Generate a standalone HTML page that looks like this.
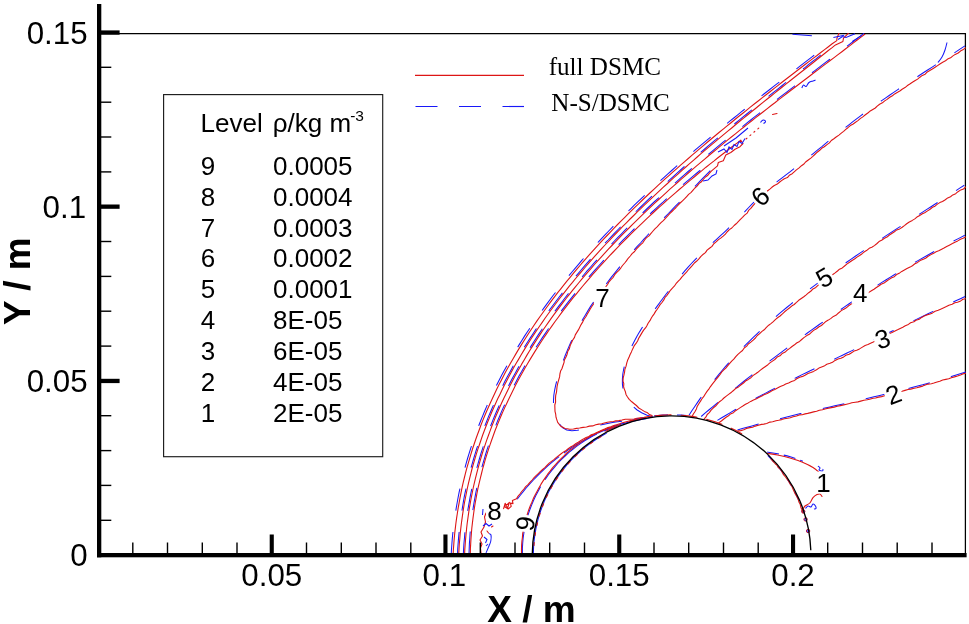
<!DOCTYPE html>
<html lang="en"><head><meta charset="utf-8"><title>Density contours: full DSMC vs N-S/DSMC</title>
<style>
html,body{margin:0;padding:0;background:#fff;}
body{width:969px;height:624px;overflow:hidden;}
svg{display:block;position:absolute;left:0;top:0;}
.sans{font-family:"Liberation Sans",Arial,Helvetica,sans-serif;}
.serif{font-family:"Liberation Serif","Times New Roman",Times,serif;}
.tick{font-size:31.3px;fill:#000;}
.axl{font-size:37px;font-weight:bold;fill:#000;}
.lg{font-size:26px;fill:#000;}
.lab{font-size:26px;fill:#000;text-anchor:middle;}
.r{fill:none;stroke:#dd1515;stroke-width:1.1;stroke-linejoin:round;stroke-linecap:round;}
.b{fill:none;stroke:#1818f8;stroke-width:1.05;stroke-linecap:butt;}
.k{fill:none;stroke:#000;}
</style></head><body>
<svg width="969" height="624" viewBox="0 0 969 624">
<rect x="0" y="0" width="969" height="624" fill="#fff"/>
<defs><clipPath id="pa"><rect x="101" y="33" width="865" height="520.5"/></clipPath></defs>
<g class="k">
<line x1="101" y1="33.5" x2="966" y2="33.5" stroke-width="1.25"/>
<line x1="965.4" y1="33" x2="965.4" y2="554" stroke-width="1.25"/>
</g>
<g clip-path="url(#pa)">
<path class="b" stroke-dasharray="22.5 21.5" d="M451.2 554.4 L451.5 549.1 L451.9 543.8 L452.3 538.6 L452.8 533.3 L453.4 528.1 L454 523 L454.7 517.8 L455.5 512.7 L456.3 507.6 L457.2 502.5 L458.1 497.5 L459.1 492.4 L460.2 487.4 L461.3 482.5 L462.5 477.5 L463.7 472.6 L465 467.7 L466.3 462.9 L467.7 458 L469.2 453.2 L470.7 448.4 L472.3 443.7 L473.9 438.9 L475.6 434.2 L477.3 429.5 L479.1 424.8 L480.9 420.2 L482.8 415.6 L484.7 411 L486.7 406.4 L488.7 401.9 L490.7 397.4 L492.9 392.9 L495 388.4 L497.2 383.9 L499.5 379.5 L501.8 375.1 L504.1 370.7 L506.5 366.4 L508.9 362 L511.4 357.7 L513.9 353.4 L516.5 349.1 L519.1 344.9 L521.7 340.7 L524.4 336.4 L527.1 332.3 L529.9 328.1 L532.6 324 L535.5 319.8 L538.3 315.7 L541.2 311.7 L544.2 307.6 L547.1 303.6 L550.1 299.5 L553.1 295.5 L556.2 291.6 L559.3 287.6 L562.4 283.7 L565.6 279.7 L568.8 275.8 L572 272 L575.3 268.1 L578.5 264.3 L581.8 260.4 L585.2 256.6 L588.5 252.8 L591.9 249.1 L595.3 245.3 L598.7 241.6 L602.2 237.9 L605.7 234.2 L609.2 230.5 L612.7 226.8 L616.3 223.2 L619.8 219.6 L623.4 216 L627 212.4 L630.7 208.8 L634.3 205.2 L638 201.7 L641.7 198.2 L645.4 194.7 L649.1 191.2 L652.8 187.7 L656.6 184.2 L660.3 180.8 L664.1 177.3 L667.9 173.9 L671.7 170.5 L675.5 167.1 L679.3 163.8 L683.2 160.4 L687 157.1 L690.9 153.7 L694.7 150.4 L698.6 147.1 L702.5 143.8 L706.4 140.6 L710.3 137.3 L714.2 134.1 L718.1 130.8 L722 127.6 L725.9 124.4 L729.8 121.2 L733.8 118 L737.7 114.9 L741.6 111.7 L745.5 108.6 L749.5 105.4 L753.4 102.3 L757.3 99.2 L761.3 96.1 L765.2 93 L769.1 90 L773 86.9 L776.9 83.9 L780.9 80.8 L784.8 77.8 L788.7 74.8 L792.6 71.8 L796.5 68.8 L800.3 65.8 L804.2 62.8 L808.1 59.9 L812 56.9 L815.8 54 L819.6 51 L823.5 48.1 L827.3 45.2 L831.1 42.3"/>
<path class="b" stroke-dasharray="22.5 21.5" d="M457.5 554.4 L457.7 549.1 L458.1 543.9 L458.5 538.6 L459 533.4 L459.5 528.2 L460.1 523.1 L460.8 518 L461.6 512.9 L462.4 507.8 L463.2 502.8 L464.1 497.7 L465.1 492.7 L466.2 487.8 L467.3 482.8 L468.4 477.9 L469.7 473 L470.9 468.2 L472.3 463.4 L473.7 458.5 L475.1 453.8 L476.6 449 L478.2 444.3 L479.8 439.6 L481.5 434.9 L483.2 430.2 L484.9 425.6 L486.8 421 L488.6 416.4 L490.6 411.8 L492.5 407.3 L494.5 402.8 L496.6 398.3 L498.7 393.8 L500.9 389.4 L503.1 385 L505.3 380.6 L507.6 376.2 L510 371.9 L512.4 367.5 L514.8 363.2 L517.3 358.9 L519.8 354.7 L522.4 350.4 L524.9 346.2 L527.6 342 L530.3 337.9 L533 333.7 L535.7 329.6 L538.5 325.5 L541.3 321.4 L544.2 317.3 L547.1 313.2 L550 309.2 L553 305.2 L556 301.2 L559 297.2 L562.1 293.3 L565.2 289.4 L568.3 285.5 L571.5 281.6 L574.7 277.7 L577.9 273.8 L581.1 270 L584.4 266.2 L587.7 262.4 L591 258.6 L594.4 254.8 L597.8 251.1 L601.2 247.4 L604.6 243.6 L608.1 240 L611.5 236.3 L615 232.6 L618.6 229 L622.1 225.4 L625.7 221.7 L629.3 218.1 L632.9 214.6 L636.5 211 L640.1 207.5 L643.8 203.9 L647.4 200.4 L651.1 196.9 L654.8 193.4 L658.5 190 L662.3 186.5 L666 183.1 L669.8 179.7 L673.5 176.3 L677.3 172.9 L681.1 169.5 L684.9 166.1 L688.7 162.8 L692.6 159.4 L696.4 156.1 L700.2 152.8 L704.1 149.5 L707.9 146.2 L711.8 142.9 L715.7 139.7 L719.5 136.4 L723.4 133.2 L727.3 129.9 L731.2 126.7 L735 123.5 L738.9 120.3 L742.8 117.2 L746.7 114 L750.6 110.8 L754.5 107.7 L758.3 104.6 L762.2 101.4 L766.1 98.3 L770 95.2 L773.8 92.1 L777.7 89.1 L781.6 86 L785.4 82.9 L789.3 79.9 L793.1 76.8 L796.9 73.8 L800.8 70.8 L804.6 67.8 L808.4 64.7 L812.2 61.7 L816 58.8 L819.7 55.8 L823.5 52.8 L827.3 49.8 L831 46.9 L834.7 43.9"/>
<path class="b" stroke-dasharray="22.5 21.5" d="M463.3 554.7 L463.6 549.3 L463.9 544 L464.4 538.8 L464.8 533.5 L465.4 528.3 L466 523.2 L466.7 518 L467.4 512.9 L468.2 507.8 L469.1 502.8 L470 497.7 L471 492.7 L472 487.7 L473.1 482.8 L474.3 477.9 L475.5 473 L476.8 468.1 L478.1 463.3 L479.5 458.5 L480.9 453.7 L482.5 448.9 L484 444.2 L485.6 439.5 L487.3 434.8 L489 430.1 L490.8 425.5 L492.6 420.9 L494.5 416.3 L496.4 411.8 L498.4 407.2 L500.4 402.7 L502.5 398.3 L504.6 393.8 L506.8 389.4 L509 385 L511.2 380.6 L513.5 376.2 L515.9 371.9 L518.3 367.6 L520.7 363.3 L523.2 359 L525.7 354.8 L528.3 350.6 L530.9 346.4 L533.5 342.2 L536.2 338.1 L538.9 333.9 L541.7 329.8 L544.5 325.7 L547.3 321.7 L550.2 317.6 L553.1 313.6 L556.1 309.6 L559.1 305.6 L562.1 301.7 L565.1 297.7 L568.2 293.8 L571.3 289.9 L574.5 286.1 L577.6 282.2 L580.8 278.4 L584.1 274.5 L587.3 270.7 L590.6 267 L594 263.2 L597.3 259.5 L600.7 255.7 L604.1 252 L607.5 248.3 L611 244.7 L614.4 241 L617.9 237.4 L621.5 233.8 L625 230.2 L628.6 226.6 L632.2 223 L635.8 219.5 L639.4 216 L643.1 212.5 L646.7 209 L650.4 205.5 L654.1 202 L657.8 198.6 L661.6 195.1 L665.3 191.7 L669.1 188.3 L672.9 184.9 L676.7 181.6 L680.5 178.2 L684.3 174.9 L688.1 171.5 L692 168.2 L695.8 164.9 L699.7 161.6 L703.6 158.3 L707.5 155.1 L711.4 151.8 L715.3 148.6 L719.2 145.4 L723.1 142.2 L727 139 L731 135.8 L734.9 132.6 L738.8 129.5 L742.8 126.3 L746.7 123.2 L750.7 120 L754.6 116.9 L758.6 113.8 L762.6 110.7 L766.5 107.6 L770.5 104.5 L774.4 101.5 L778.4 98.4 L782.3 95.4 L786.3 92.3 L790.2 89.3 L794.2 86.3 L798.1 83.3 L802.1 80.3 L806 77.3 L809.9 74.3 L813.9 71.3 L817.8 68.4 L821.7 65.4 L825.6 62.4 L829.5 59.5 L833.4 56.6 L837.2 53.6 L841.1 50.7 L845 47.8 L848.8 44.9 L852.6 42 L856.4 39.1 L860.3 36.2 L864 33.3"/>
<path class="b" stroke-dasharray="22.5 21.5" d="M469 553.9 L469.2 548.7 L469.4 543.6 L469.8 538.4 L470.1 533.2 L470.6 528.1 L471.1 523 L471.7 517.9 L472.4 512.9 L473.2 507.8 L474 502.8 L474.9 497.8 L475.8 492.9 L476.8 487.9 L477.9 483 L479 478.1 L480.3 473.2 L481.5 468.4 L482.9 463.6 L484.3 458.8 L485.7 454 L487.2 449.2 L488.8 444.5 L490.4 439.8 L492.1 435.1 L493.9 430.4 L495.7 425.7 L497.5 421.1 L499.5 416.5 L501.4 411.9 L503.4 407.4 L505.5 402.8 L507.7 398.3 L509.8 393.9 L512.1 389.4 L514.3 384.9 L516.7 380.5 L519 376.1 L521.5 371.8 L523.9 367.4 L526.4 363.1 L529 358.8 L531.6 354.5 L534.2 350.2 L536.9 346 L539.7 341.8 L542.4 337.6 L545.3 333.4 L548.1 329.3 L551 325.1 L553.9 321 L556.9 317 L559.9 312.9 L562.9 308.9 L566 304.9 L569.1 300.9 L572.3 296.9 L575.4 293 L578.6 289.1 L581.9 285.2 L585.2 281.3 L588.5 277.4 L591.8 273.6 L595.1 269.8 L598.5 266 L601.9 262.3 L605.4 258.5 L608.8 254.8 L612.3 251.1 L615.8 247.5 L619.4 243.8 L622.9 240.2 L626.5 236.6 L630.1 233 L633.7 229.5 L637.3 225.9 L641 222.4 L644.7 218.9 L648.4 215.5 L652.1 212 L655.8 208.6 L659.5 205.2 L663.3 201.9 L667 198.5 L670.8 195.2 L674.6 191.9 L678.4 188.6 L682.2 185.3 L686 182.1 L689.9 178.9 L693.7 175.7 L697.5 172.5 L701.4 169.4 L705.3 166.3 L709.1 163.2 L713 160.1 L716.8 157"/>
<path class="b" stroke-dasharray="22 22" d="M653.2 417.1 L647.1 415.2 L641.6 412.7 L636.8 409.7 L632.6 406.2 L629.2 402.3 L626.4 398.1 L624.4 393.5 L623 388.8 L622.4 383.9 L622.4 379 L622.8 374 L623.7 369 L625 364 L626.5 359.1 L628.3 354.3 L630.2 349.6 L632.4 345 L634.7 340.5 L637.1 336 L639.7 331.6 L642.4 327.3 L645.2 323 L648.1 318.8 L651 314.6 L654 310.5 L657 306.4 L660 302.3 L663 298.3 L666 294.3 L669.1 290.3 L672.1 286.4 L675.2 282.4 L678.4 278.5 L681.6 274.7 L684.8 270.9 L688.1 267.2 L691.4 263.5 L694.9 259.8 L698.4 256.2 L701.9 252.7 L705.6 249.2 L709.3 245.8 L713.1 242.4 L716.8 239.1 L720.5 235.7 L724.2 232.3 L727.8 228.9 L731.4 225.4 L734.9 221.8 L738.4 218.3 L741.8 214.7 L745.3 211.1 L748.7 207.5 L752.2 203.9 L755.8 200.4 L759.4 196.9 L763 193.5 L766.8 190.2 L770.6 186.9 L774.5 183.8 L778.4 180.7 L782.4 177.6 L786.3 174.6 L790.3 171.6 L794.2 168.5 L798.2 165.5 L802.1 162.4 L806 159.3 L809.9 156.2 L813.8 153.1 L817.7 149.9 L821.6 146.8 L825.4 143.6 L829.3 140.4 L833.2 137.3 L837.1 134.1 L841 131 L845 127.9 L848.9 124.8 L852.9 121.7 L856.9 118.6 L860.9 115.6 L864.9 112.6 L869 109.7 L873.1 106.7 L877.2 103.8 L881.3 100.9 L885.4 98.1 L889.5 95.2 L893.7 92.4 L897.8 89.6 L902 86.8 L906.2 84 L910.4 81.3 L914.6 78.5 L918.8 75.8 L923 73 L927.2 70.3 L931.4 67.6 L935.6 64.9 L939.8 62.2 L944 59.5 L948.2 56.8 L952.4 54.1 L956.6 51.4 L960.7 48.6 L964.9 45.9"/>
<path class="b" stroke-dasharray="22 22" d="M689 415.3 L691.7 411 L694.6 406.8 L697.4 402.6 L700.3 398.4 L703.3 394.3 L706.3 390.2 L709.4 386.2 L712.5 382.2 L715.7 378.3 L718.9 374.4 L722.1 370.5 L725.4 366.7 L728.7 362.9 L732.1 359.2 L735.5 355.5 L738.9 351.9 L742.4 348.2 L745.9 344.7 L749.5 341.1 L753 337.6 L756.7 334.1 L760.3 330.7 L764 327.3 L767.7 323.9 L771.5 320.5 L775.2 317.2 L779 313.9 L782.9 310.7 L786.7 307.5 L790.6 304.3 L794.5 301.1 L798.4 297.9 L802.4 294.8 L806.3 291.7 L810.3 288.7 L814.4 285.6 L818.4 282.6 L822.4 279.6 L826.5 276.6 L830.6 273.6 L834.7 270.7 L838.8 267.8 L842.9 264.9 L847 262 L851.2 259.1 L855.3 256.2 L859.5 253.4 L863.7 250.6 L867.9 247.7 L872.1 244.9 L876.3 242.2 L880.5 239.4 L884.7 236.6 L888.9 233.9 L893.1 231.1 L897.3 228.4 L901.5 225.7 L905.7 222.9 L910 220.2 L914.2 217.5 L918.4 214.8 L922.6 212.1 L926.8 209.4 L931 206.7 L935.2 204 L939.4 201.4 L943.5 198.7 L947.7 196 L951.9 193.3 L956 190.6 L960.1 187.9 L964.3 185.2"/>
<path class="b" stroke-dasharray="22 22" d="M701.2 416.5 L705 413.2 L708.8 410 L712.6 406.8 L716.5 403.6 L720.3 400.4 L724.2 397.2 L728.1 394.1 L731.9 390.9 L735.8 387.8 L739.7 384.6 L743.6 381.5 L747.5 378.4 L751.5 375.3 L755.4 372.2 L759.3 369.1 L763.3 366 L767.2 363 L771.2 359.9 L775.2 356.9 L779.2 353.9 L783.2 350.9 L787.2 347.9 L791.2 344.9 L795.2 341.9 L799.3 338.9 L803.3 336 L807.4 333 L811.4 330.1 L815.5 327.2 L819.6 324.3 L823.7 321.4 L827.8 318.5 L831.9 315.7 L836 312.8 L840.1 310 L844.2 307.1 L848.4 304.3 L852.5 301.5 L856.7 298.8 L860.9 296 L865.1 293.2 L869.3 290.5 L873.5 287.8 L877.7 285.1 L881.9 282.4 L886.2 279.7 L890.4 277.1 L894.7 274.5 L899 271.9 L903.3 269.3 L907.6 266.7 L911.9 264.2 L916.2 261.6 L920.6 259.1 L924.9 256.7 L929.3 254.2 L933.7 251.8 L938.1 249.3 L942.5 246.9 L946.9 244.6 L951.4 242.2 L955.8 239.9 L960.3 237.6 L964.8 235.3"/>
<path class="b" stroke-dasharray="22 22" d="M717.4 420.4 L721.7 417.8 L726 415.2 L730.4 412.6 L734.7 410 L739.1 407.5 L743.5 405 L747.9 402.6 L752.3 400.2 L756.7 397.8 L761.2 395.4 L765.6 393.1 L770.1 390.7 L774.6 388.4 L779.1 386.1 L783.6 383.9 L788.1 381.6 L792.6 379.4 L797.1 377.2 L801.6 374.9 L806.2 372.7 L810.7 370.5 L815.2 368.4 L819.8 366.2 L824.3 364 L828.8 361.8 L833.4 359.6 L837.9 357.4 L842.5 355.2 L847 353.1 L851.5 350.9 L856 348.7 L860.6 346.5 L865.1 344.3 L869.6 342.1 L874.2 339.8 L878.7 337.6 L883.2 335.4 L887.7 333.2 L892.3 331 L896.8 328.8 L901.3 326.6 L905.8 324.4 L910.4 322.3 L914.9 320.1 L919.4 317.9 L924 315.7 L928.5 313.6 L933.1 311.4 L937.6 309.3 L942.2 307.1 L946.7 305 L951.3 302.9 L955.8 300.8 L960.4 298.7 L965 296.6"/>
<path class="b" stroke-dasharray="22 22" d="M737.5 430 L742.3 428.6 L747.1 427.3 L752 425.9 L756.8 424.6 L761.6 423.3 L766.5 422.1 L771.4 420.8 L776.2 419.6 L781.1 418.4 L785.9 417.2 L790.8 416 L795.7 414.8 L800.6 413.6 L805.5 412.5 L810.4 411.4 L815.2 410.2 L820.1 409.1 L825 408 L829.9 406.9 L834.8 405.8 L839.7 404.7 L844.6 403.6 L849.5 402.4 L854.4 401.3 L859.3 400.2 L864.2 399.1 L869.1 398 L874 396.8 L878.8 395.7 L883.7 394.5 L888.6 393.4 L893.5 392.2 L898.3 391 L903.2 389.8 L908 388.6 L912.9 387.3 L917.7 386 L922.6 384.8 L927.4 383.4 L932.2 382.1 L937 380.7 L941.9 379.4 L946.7 377.9 L951.4 376.5 L956.2 375 L961 373.5 L965.8 372"/>
<path class="b" stroke-dasharray="22 22" d="M710.3 170.6 L706.9 174.1 L703.4 177.7 L700 181.2 L696.5 184.8 L693 188.3 L689.5 191.9 L686 195.5 L682.5 199.1 L679 202.6 L675.4 206.2 L671.9 209.8 L668.4 213.5 L664.8 217.1 L661.3 220.8 L657.8 224.4 L654.3 228.1 L650.8 231.8 L647.3 235.5 L643.9 239.2 L640.5 243 L637 246.7 L633.7 250.5 L630.3 254.3 L627 258.2 L623.7 262 L620.5 265.9 L617.3 269.8 L614.1 273.8 L611 277.7 L607.9 281.7 L604.9 285.8 L601.9 289.8 L599 293.9 L596.2 298 L593.4 302.2 L590.6 306.4 L588 310.6 L585.4 314.9 L582.8 319.2 L580.4 323.5 L578 327.9 L575.7 332.3 L573.5 336.8 L571.3 341.3 L569.2 345.9 L567.2 350.6 L565.3 355.3 L563.5 360.1 L561.7 365 L560 369.9 L558.4 375 L557 380.1 L555.7 385.2 L554.6 390.4 L553.8 395.5 L553.5 400.6 L553.5 405.5 L554 410.4 L555.1 415.1 L556.8 419.6 L559.2 423.8 L562.4 427.5 L566.7 430 L571.9 430.8 L577.4 430.3 L582.7 429.4 L587.9 428.2 L592.9 426.9 L597.9 425.6 L602.8 424.4 L607.6 423.4 L612.5 422.5 L617.5 421.8 L622.4 421.2 L627.4 420.6 L632.4 420.1 L637.4 419.5 L642.5 418.8 L647.5 418 L652.5 417"/>
<path class="b" stroke-dasharray="60 6" d="M517.2 499.2 L520.3 495.2 L523.4 491.3 L526.6 487.5 L530 483.7 L533.4 480 L536.9 476.3 L540.4 472.8 L544.1 469.3 L547.8 465.9 L551.6 462.6 L555.5 459.4 L559.5 456.3 L563.5 453.3 L567.6 450.4 L571.8 447.5 L576 444.8 L580.3 442.2 L584.7 439.7 L589.1 437.3 L593.6 435.1 L598.1 432.9 L602.7 430.9 L607.3 429 L612 427.2 L616.8 425.6 L621.6 424.1 L626.4 422.7 L631.3 421.5 L636.3 420.4 L641.2 419.5 L646.3 418.7"/>
<path class="b" stroke-dasharray="70 8" d="M522.4 553.3 L522.4 548.3 L522.7 543.3 L523.1 538.4 L523.8 533.5 L524.6 528.6 L525.7 523.8 L526.9 519 L528.3 514.2 L529.9 509.5 L531.7 504.9 L533.6 500.3 L535.7 495.8 L538 491.4 L540.4 487 L543 482.8 L545.7 478.6 L548.6 474.5 L551.6 470.6 L554.8 466.8 L558.1 463 L561.5 459.4 L565.1 456 L568.7 452.7 L572.5 449.5 L576.5 446.4 L580.5 443.6 L584.6 440.8 L588.9 438.3 L593.2 435.9 L597.7 433.7 L602.2 431.7 L606.8 429.8 L611.5 428.2 L616.3 426.7"/>
<path class="b" stroke-dasharray="12 5" d="M767.2 452.1 C768.9 452.4 773.9 453 777.7 453.8 C781.6 454.6 786.1 455.6 790.3 456.8 C794.5 458.1 800.8 460.4 802.9 461.2"/>
<path class="b" d="M938 62.5 C938.7 61.6 940.8 59.1 942 57 C943.2 54.9 944.2 52.4 945 50 C945.8 47.6 946.7 43.8 947 42.5"/>
<path class="b" d="M792.4 34.2 L811.9 35.8"/>
<path class="b" d="M801.8 88 C802.1 87.5 802.8 85.2 803.5 85 C804.2 84.8 805.1 86.9 806 86.5 C806.9 86.1 807.8 83.4 809 82.5 C810.2 81.6 811.9 81.4 813 81 C814.1 80.6 815.1 80.2 815.5 80"/>
<path class="b" d="M486 553 C486.5 551.8 488.2 548 489 546 C489.8 544 490.5 542.8 490.8 541 C491.1 539.2 491.3 536.2 491 535 C490.7 533.8 489.3 533.8 489 533.5"/>
<path class="b" d="M818 466 C818.3 466.3 819.8 467.3 820 468 C820.2 468.7 818.6 469.5 819 470 C819.4 470.5 821.8 471.2 822.5 471 C823.2 470.8 822.9 469.3 823 469"/>
<path class="b" d="M805.5 508.5 C805.9 508.1 807.1 506.2 808 506 C808.9 505.8 810.2 507.3 811 507 C811.8 506.7 812.2 504.2 813 504 C813.8 503.8 815 505.2 815.5 506 C816 506.8 816.2 508 816 508.5 C815.8 509 814.3 508.9 814 509"/>
<path class="r" d="M453.1 554.5 L453.4 549.3 L453.8 544 L454.2 538.7 L454.7 533.5 L455.3 528.4 L455.9 523.2 L456.6 518.1 L457.4 513 L458.2 507.9 L459.1 502.8 L460 497.8 L461 492.8 L462 487.8 L463.1 482.9 L464.3 478 L465.5 473.1 L466.8 468.2 L468.2 463.4 L469.6 458.6 L471 453.8 L472.5 449 L474.1 444.3 L475.7 439.5 L477.4 434.8 L479.1 430.2 L480.8 425.5 L482.6 420.9 L484.5 416.3 L486.4 411.7 L488.4 407.2 L490.4 402.7 L492.5 398.2 L494.6 393.7 L496.7 389.2 L498.9 384.8 L501.2 380.4 L503.5 376 L505.8 371.6 L508.2 367.3 L510.6 363 L513.1 358.7 L515.6 354.4 L518.1 350.1 L520.7 345.9 L523.3 341.7 L526 337.5 L528.7 333.3 L531.4 329.2 L534.2 325 L537 320.9 L539.9 316.8 L542.8 312.8 L545.7 308.7 L548.6 304.7 L551.6 300.7 L554.7 296.7 L557.7 292.7 L560.8 288.8 L563.9 284.9 L567.1 280.9 L570.3 277.1 L573.5 273.2 L576.7 269.3 L580 265.5 L583.3 261.7 L586.6 257.9 L589.9 254.1 L593.3 250.3 L596.7 246.6 L600.1 242.9 L603.6 239.2 L607.1 235.5 L610.6 231.8 L614.1 228.2 L617.6 224.5 L621.2 220.9 L624.8 217.3 L628.4 213.7 L632 210.1 L635.6 206.6 L639.3 203.1 L643 199.5 L646.7 196 L650.4 192.5 L654.1 189.1 L657.8 185.6 L661.6 182.2 L665.4 178.7 L669.2 175.3 L673 171.9 L676.8 168.6 L680.6 165.2 L684.4 161.8 L688.3 158.5 L692.1 155.2 L696 151.9 L699.8 148.6 L703.7 145.3 L707.6 142 L711.5 138.8 L715.4 135.5 L719.3 132.3 L723.2 129.1 L727.1 125.9 L731 122.7 L734.9 119.5 L738.9 116.3 L742.8 113.2 L746.7 110.1 L750.6 106.9 L754.6 103.8 L758.5 100.7 L762.4 97.6 L766.4 94.5 L770.3 91.5 L774.2 88.4 L778.1 85.4 L782 82.3 L785.9 79.3 L789.8 76.3 L793.7 73.3 L797.6 70.3 L801.5 67.3 L805.4 64.3 L809.2 61.4 L813.1 58.4 L817 55.5 L820.8 52.5 L824.6 49.6 L828.4 46.7 L832.2 43.8 L836.8 40.6 L837 38 L839.5 32"/>
<path class="r" d="M458.7 554.5 L459 549.2 L459.3 544 L459.8 538.7 L460.2 533.6 L460.8 528.4 L461.4 523.2 L462.1 518.1 L462.8 513.1 L463.6 508 L464.4 503 L465.4 498 L466.4 493 L467.4 488 L468.5 483.1 L469.7 478.2 L470.9 473.4 L472.1 468.5 L473.5 463.7 L474.9 458.9 L476.3 454.1 L477.8 449.4 L479.4 444.7 L481 440 L482.6 435.3 L484.3 430.7 L486.1 426 L487.9 421.5 L489.8 416.9 L491.7 412.3 L493.7 407.8 L495.7 403.3 L497.7 398.8 L499.9 394.4 L502 390 L504.2 385.5 L506.5 381.2 L508.8 376.8 L511.1 372.5 L513.5 368.1 L515.9 363.8 L518.4 359.6 L520.9 355.3 L523.4 351.1 L526 346.9 L528.6 342.7 L531.3 338.5 L534 334.4 L536.8 330.3 L539.5 326.2 L542.4 322.1 L545.2 318 L548.1 314 L551 310 L554 306 L557 302 L560 298 L563.1 294.1 L566.2 290.1 L569.3 286.2 L572.5 282.4 L575.6 278.5 L578.9 274.6 L582.1 270.8 L585.4 267 L588.7 263.2 L592 259.4 L595.3 255.7 L598.7 251.9 L602.1 248.2 L605.5 244.5 L609 240.8 L612.5 237.1 L615.9 233.5 L619.5 229.8 L623 226.2 L626.6 222.6 L630.1 219 L633.7 215.5 L637.3 211.9 L641 208.4 L644.6 204.8 L648.3 201.3 L652 197.8 L655.7 194.4 L659.4 190.9 L663.1 187.4 L666.9 184 L670.6 180.6 L674.4 177.2 L678.2 173.8 L682 170.4 L685.8 167 L689.6 163.7 L693.4 160.4 L697.2 157 L701 153.7 L704.9 150.4 L708.7 147.1 L712.6 143.9 L716.5 140.6 L720.3 137.4 L724.2 134.1 L728.1 130.9 L732 127.7 L735.8 124.5 L739.7 121.3 L743.6 118.1 L747.5 115 L751.4 111.8 L755.2 108.7 L759.1 105.5 L763 102.4 L766.9 99.3 L770.8 96.2 L774.6 93.1 L778.5 90 L782.3 87 L786.2 83.9 L790.1 80.8 L793.9 77.8 L797.7 74.8 L801.5 71.7 L805.4 68.7 L809.2 65.7 L813 62.7 L816.7 59.7 L820.5 56.8 L824.3 53.8 L828 50.8 L831.8 47.9 L835.5 44.9 L842.9 41.5 L843.5 38.1 L849.6 32"/>
<path class="r" d="M464.6 554.7 L464.8 549.4 L465.2 544.1 L465.6 538.9 L466.1 533.7 L466.6 528.5 L467.2 523.3 L467.9 518.2 L468.6 513.1 L469.4 508 L470.3 503 L471.2 498 L472.2 493 L473.2 488 L474.3 483.1 L475.5 478.2 L476.7 473.3 L478 468.4 L479.3 463.6 L480.7 458.8 L482.1 454 L483.6 449.3 L485.2 444.6 L486.8 439.9 L488.5 435.2 L490.2 430.6 L491.9 426 L493.8 421.4 L495.6 416.8 L497.6 412.3 L499.5 407.8 L501.5 403.3 L503.6 398.8 L505.7 394.4 L507.9 389.9 L510.1 385.5 L512.3 381.2 L514.6 376.8 L517 372.5 L519.4 368.2 L521.8 363.9 L524.3 359.7 L526.8 355.4 L529.3 351.2 L531.9 347.1 L534.6 342.9 L537.3 338.7 L540 334.6 L542.7 330.5 L545.5 326.5 L548.4 322.4 L551.2 318.4 L554.1 314.4 L557.1 310.4 L560.1 306.4 L563.1 302.4 L566.1 298.5 L569.2 294.6 L572.3 290.7 L575.4 286.8 L578.6 283 L581.8 279.2 L585 275.4 L588.3 271.6 L591.6 267.8 L594.9 264 L598.2 260.3 L601.6 256.6 L605 252.9 L608.4 249.2 L611.9 245.5 L615.4 241.9 L618.8 238.3 L622.4 234.7 L625.9 231.1 L629.5 227.5 L633.1 223.9 L636.7 220.4 L640.3 216.9 L643.9 213.4 L647.6 209.9 L651.3 206.4 L655 202.9 L658.7 199.5 L662.4 196.1 L666.2 192.6 L669.9 189.2 L673.7 185.9 L677.5 182.5 L681.3 179.1 L685.1 175.8 L688.9 172.5 L692.8 169.2 L696.6 165.9 L700.5 162.6 L704.4 159.3 L708.3 156 L712.2 152.8 L716.1 149.6 L720 146.3 L723.9 143.1 L727.8 139.9 L731.7 136.8 L735.7 133.6 L739.6 130.4 L743.6 127.3 L747.5 124.1 L751.5 121 L755.4 117.9 L759.4 114.8 L763.3 111.7 L767.3 108.6 L771.2 105.5 L775.2 102.5 L779.1 99.4 L783.1 96.4 L787.1 93.3 L791 90.3 L795 87.3 L798.9 84.3 L802.8 81.3 L806.8 78.3 L810.7 75.3 L814.6 72.3 L818.5 69.4 L822.4 66.4 L826.4 63.4 L830.2 60.5 L834.1 57.6 L838 54.6 L841.9 51.7 L845.7 48.8 L849.6 45.9 L853.4 42.9 L857.2 40 L861 37.1 L864.8 34.3"/>
<path class="r" d="M470.3 554 L470.4 548.8 L470.7 543.6 L471 538.5 L471.4 533.3 L471.8 528.2 L472.4 523.1 L473 518.1 L473.7 513 L474.4 508 L475.2 503 L476.1 498.1 L477 493.1 L478 488.2 L479.1 483.3 L480.3 478.4 L481.5 473.5 L482.7 468.7 L484.1 463.9 L485.4 459.1 L486.9 454.3 L488.4 449.6 L490 444.9 L491.6 440.2 L493.3 435.5 L495 430.8 L496.8 426.2 L498.7 421.6 L500.6 417 L502.6 412.4 L504.6 407.9 L506.7 403.4 L508.8 398.9 L511 394.4 L513.2 390 L515.4 385.5 L517.8 381.1 L520.1 376.7 L522.5 372.4 L525 368 L527.5 363.7 L530.1 359.4 L532.7 355.1 L535.3 350.9 L538 346.7 L540.7 342.5 L543.5 338.3 L546.3 334.1 L549.1 330 L552 325.9 L554.9 321.8 L557.9 317.7 L560.9 313.7 L563.9 309.6 L567 305.6 L570.1 301.7 L573.2 297.7 L576.4 293.8 L579.6 289.9 L582.8 286 L586.1 282.1 L589.4 278.3 L592.7 274.4 L596.1 270.6 L599.4 266.9 L602.9 263.1 L606.3 259.4 L609.7 255.7 L613.2 252 L616.7 248.3 L620.3 244.7 L623.8 241.1 L627.4 237.5 L631 233.9 L634.6 230.4 L638.2 226.8 L641.9 223.3 L645.5 219.9 L649.2 216.4 L652.9 213 L656.6 209.5 L660.4 206.2 L664.1 202.8 L667.9 199.4 L671.6 196.1 L675.4 192.8 L679.2 189.5 L683 186.3 L686.8 183.1 L690.7 179.8 L694.5 176.7 L698.3 173.5 L702.2 170.4 L706 167.2 L709.9 164.1 L713.8 161.1 L717.6 158 L721.5 155 L725.4 152 L729.2 149 L733.1 146 L737 143.1 L740.8 140.2 L743 143.5 L740 146.7 L735 149.2 L730.8 152.5 L725.8 155 L723.3 160.8 L718.3 162.5 L717.5 165.8 L711.3 171.1 L709.5 173.2 L707.9 175.2 L705.5 177 L703.2 179.5 L701.4 181.8 L699.2 183.4 L697 186.1 L694.9 188 L693.3 189.8 L690.9 192.6 L688.6 194.4 L686.9 196.3 L684.5 198.9 L682.5 200.8 L680.1 203 L678.1 205.1 L676 207.5 L674.1 209.3 L671.9 211.5 L669.7 213.7 L667.7 215.9 L665.4 218.3 L663.3 220.6 L661 222.7 L659.1 224.7 L657.1 226.9 L654.9 228.8 L652.6 231.5 L650.8 233.7 L649 235.9 L646.3 237.9 L644.6 240 L642.8 242.8 L640.7 244.7 L638.7 246.7 L636.3 249.2 L634.6 251.5 L632.1 253.7 L630.3 256 L628.2 258.3 L626.4 260.9 L624.7 263 L622.5 265.5 L620.9 267.8 L618.9 270.3 L616.5 272.6 L614.7 274.7 L613.2 277.3 L610.9 279.6 L609 281.8 L607.7 284.2 L605.8 286.9 L604.1 289.3 L601.8 291.5 L600.4 293.7 L598.7 296.6 L597.2 299.3 L595 301.3 L593.7 303.7 L591.8 306.5 L590.1 309.2 L589 311.2 L587.2 314.3 L586 316.5 L583.9 319.5 L582.9 321.6 L581.1 324.6 L580 326.8 L578.4 329.9 L577 332.1 L575.3 334.9 L574.5 337.4 L572.6 340.3 L571.4 342.9 L570.1 345.9 L569.4 348.6 L567.8 351.3 L567 354.5 L566.1 356.8 L564.4 360 L564 362.6 L562.9 365.8 L561.9 368.7 L560.6 371.1 L559.9 374 L559.6 376.9 L558.7 379.9 L557.8 383.1 L557.1 386.3 L556.8 389.2 L556.5 392.2 L555.7 395.4 L555.5 398.5 L555.6 402.1 L554.8 405 L554.9 408.2 L555 411.3 L555.7 414.2 L556 417.2 L556.7 419.4 L557.7 422.4 L558.9 424 L560.5 426 L562.4 427 L564.9 428.5 L567.1 428.8 L569.8 429.3 L573.4 429 L576.6 428.4 L579.6 428 L583.1 427.4 L586.5 427 L589.4 426.1 L592.7 425.9 L595.7 424.8 L598.8 424.1 L601.7 423.7 L604.3 423 L607.4 422.2 L610.5 421.7 L613.4 421.5 L615.8 420.9 L618.9 420.6 L622 420 L625.2 419.3 L628 419.2 L630.6 419.2 L634 419 L637 418.2 L640.3 417.7 L642.7 417.7 L645.9 417 L649.3 416.4 L652.3 416"/>
<path class="r" d="M652 415.4 L649.5 414.6 L647 412.4 L644.3 411.4 L641.5 409.6 L638.8 408 L636.4 405.5 L634.2 403.7 L631.8 401.8 L629.2 399.3 L627.5 397 L626 394.4 L625.4 391.8 L624.3 389.1 L623.6 386.7 L623.8 383.7 L623 381.1 L623.2 377.8 L623.9 375.2 L624.6 372 L624.9 369.3 L626 366.4 L626.8 362.9 L627.6 360.3 L628.9 357.6 L630 354.7 L631.4 351.9 L632.7 348.9 L634.1 345.9 L636.2 343.2 L637.7 340.7 L638.7 338.2 L640.3 335.6 L641.9 332.9 L643.6 330.1 L645.7 327.7 L647 325.5 L648.1 323.2 L650.1 320.4 L651.2 318.2 L652.7 315.8 L654 314.1 L655.6 311.4 L657.2 309.2 L658.7 307 L659.9 304.9 L662 302.5 L663.8 299.9 L665 297.4 L667 295.3 L668.7 292.9 L670.4 290.3 L672.4 288.1 L674.3 286.2 L676 283.7 L678.3 281.1 L680.1 279.3 L682 276.8 L684.4 274.3 L686.5 272.2 L688.2 270 L690.2 267.8 L692.2 265.7 L694.4 263 L696.5 261.3 L698.9 258.8 L700.7 256.6 L703.3 254.2 L705.4 252.6 L707.1 250.1 L709.5 248.3 L712 246.4 L713.8 243.7 L716.1 241.9 L718.5 239.6 L720.7 238.1 L723.2 236.1 L725.4 234.1 L727 232 L729.4 229.6 L731.8 228 L734.1 225.5 L736.2 223.8 L738.7 221.2 L740.4 219.3 L742.5 217.3 L744.6 215.1 L747.2 213.1 L748.6 210.4 L750.8 208.4 L752.8 205.9 L754.8 203.6 L757.2 201.7 L758.9 199.4 L761 197.1 L763 195 L765.6 193.2 L767.7 190.7 L769.8 189.1 L771.9 187.3 L774.3 185.5 L777.3 184.1 L779.7 182 L781.9 180.4 L784.3 178.7 L787.4 177.6 L789.3 175.3 L792.2 173.7 L794.2 171.8 L796.4 169.9 L799.1 167.9 L801.5 165.7 L803.6 164.3 L805.6 162 L808.3 160 L810.8 158.1 L812.8 156.4 L814.8 154.5 L817.2 152.2 L819.7 150.3 L821.7 148.3 L824.3 146.8 L827 144.6 L829.4 142.9 L831.3 140.5 L833.9 138.7 L835.8 137.3 L838.9 135.1 L841 133.4 L843.6 131.4 L845.8 129.4 L847.9 127.7 L850.3 125.6 L852.8 124.2 L855.2 122.5 L857.9 120.6 L860.5 118.4 L862.5 117.1 L865.4 114.8 L867.8 113 L869.8 111.3 L872.4 109.7 L875.3 108 L877.2 106.1 L879.6 104.2 L882.4 102.8 L884.7 100.9 L887.1 99.4 L889.8 97.3 L892.4 95.7 L894.7 93.9 L897.6 92.3 L900.2 90.7 L902.1 89.2 L905 87.6 L907.1 85.8 L910.2 83.8 L912.4 82.3 L914.8 80.8 L917.6 79.1 L919.9 77.2 L922.3 75.4 L925.2 74.2 L927.3 71.9 L929.8 70.5 L932.8 68.7 L935.1 67.3 L937.9 65.4 L939.9 64 L942.7 62.2 L945.5 60.8 L947.6 59.1 L950.6 57.8 L952.6 56.1 L955.2 54.4 L958.2 53 L960.8 50.8 L963.4 49.4 L966.1 47.6"/>
<path class="r" d="M692 417 L693.2 414.3 L694.9 411.7 L696.4 408.9 L697.3 406.2 L699 403.5 L700.7 400.9 L701.8 399 L704 396.1 L705.3 394 L707.2 391.1 L708.8 389.1 L710.3 386.8 L712.5 383.9 L714.5 381.4 L716.1 379.4 L717.8 377.3 L720.1 374.5 L721.6 372.1 L723.8 369.9 L725.8 368.1 L728 365.4 L729.7 363.4 L731.7 361.1 L733.8 359.2 L735.8 356.7 L737.9 354.4 L740.2 352.4 L742.5 350.5 L744.2 348 L746.7 346.1 L748.3 344 L750.8 342.1 L753.2 340.1 L755.4 338 L757.3 335.5 L759.4 333.9 L761.7 331.6 L764.2 329.8 L766.4 327.3 L768.7 325.2 L770.9 323.6 L773 321.9 L775.6 319.4 L778.2 317.3 L780.1 316 L782.4 313.9 L784.6 311.8 L787.3 309.6 L789.4 308 L792 305.8 L794.2 304.5 L796.5 302.4 L798.7 300.3 L801.3 298.5 L803.8 296.8 L806.2 294.9 L808.7 292.7 L811 291 L813 288.9 L815.8 287.4 L817.7 285.6 L820 283.6 L822.8 282 L824.9 279.7 L827.6 278.5 L830.2 276.4 L832.5 274.8 L835.1 272.9 L837.5 271 L839.5 269.2 L842.3 267.9 L844.6 266 L846.8 264.1 L849.5 262.3 L851.7 260.7 L854.5 259 L857 257.1 L859.6 255.5 L862.1 253.7 L864.4 251.8 L866.5 250.6 L869.2 248.3 L871.8 247.2 L874.4 245.6 L877 243.5 L879 241.6 L881.6 240.3 L884.5 238.2 L887 237.1 L889.4 235 L891.4 233.7 L894.4 231.8 L896.7 229.9 L899.7 228.9 L902.2 227.2 L904.4 225.6 L906.7 223.8 L909.3 222 L912.3 220.4 L914.8 218.9 L916.9 217.1 L919.3 215.7 L922.4 213.8 L924.7 212.7 L927.2 211.1 L930.1 209.2 L932.5 207.3 L935 206.2 L937.4 204.1 L939.8 202.6 L942.5 201.5 L945.3 199.7 L947.7 197.9 L950.5 196.7 L952.8 194.9 L955.7 193.7 L958 191.7 L960.8 189.9 L963.5 189 L965.8 187"/>
<path class="r" d="M703.8 419.3 L706 416.9 L707.2 414.5 L709.3 412.6 L711.1 410.2 L713.4 407.8 L715.6 406 L717.3 404.2 L719.5 401.7 L721.7 400.1 L723.9 398 L726.3 396.1 L728.6 394.4 L731.5 392.2 L733.5 390.5 L736.1 388.2 L738.5 386.9 L741.1 384.8 L743.5 383 L745.5 381 L748.3 379.4 L750.9 377.7 L752.9 375.6 L755.7 373.8 L757.8 372.3 L760.4 370.1 L762.9 368.2 L765.1 366.7 L767.9 364.7 L769.9 362.9 L772.5 361.1 L774.8 359.5 L777.2 357.1 L780 355.8 L782.1 353.6 L784.8 352.3 L787 350.3 L789.4 348.6 L792 346.5 L794.5 344.8 L796.6 343 L799.6 341.4 L801.7 339.5 L803.9 337.6 L806.8 335.6 L809.3 334.3 L811.6 332.2 L813.6 330.4 L816.5 328.7 L819 326.8 L821.4 325.5 L823.8 323.3 L825.9 321.4 L828.3 320.1 L831 318.4 L833.4 316.4 L836.3 315.1 L838.2 313.2 L841 310.9 L843.5 309.4 L845.9 308.1 L848.6 305.8 L851.1 304.1 L853.7 302.8 L856.1 300.7 L858.2 299.3 L860.9 297.8 L863.4 295.9 L865.8 294.3 L868.9 292.4 L871.4 290.7 L874 289.3 L876 287.8 L879.1 285.8 L881.1 284.2 L884 283.1 L886.8 281 L888.8 279.6 L891.7 277.7 L894.3 276.7 L896.6 274.6 L899.7 272.9 L901.8 271.4 L904.8 269.8 L907 268.6 L910.1 267.1 L912.4 265.7 L914.9 263.8 L917.6 262.4 L920.1 260.6 L923.3 259.2 L925.6 258.2 L928.1 256.3 L931 254.6 L933.2 253.6 L936.1 251.7 L938.7 250.7 L941.7 249.2 L944 248 L946.7 246.5 L949.3 245.2 L952.4 243.6 L954.9 242.2 L957.7 240.9 L960.5 239.2 L963 238.3 L965.7 237.1"/>
<path class="r" d="M718.8 422.7 L721.4 421 L723.5 419.3 L726.1 417.3 L728.5 415.8 L730.5 413.9 L733.4 412.7 L735.6 410.7 L738.4 408.9 L740.3 407.6 L743.2 405.8 L745.5 404.3 L748.2 402.9 L750.7 401.4 L753.5 400 L756.5 398.8 L758.7 397.6 L761.8 396 L764 394.8 L767.2 393.6 L769.9 392.1 L772.3 390.5 L774.8 389.5 L777.9 387.8 L780.3 386.5 L783.5 385.2 L785.7 384 L788.6 382.9 L791.5 381.4 L794.6 380.4 L796.7 378.7 L799.7 377.2 L802.6 376.4 L805 375.2 L808 373.5 L810.8 372.5 L813.6 371.4 L816.5 369.7 L818.9 368.1 L821.6 367 L824.1 366.1 L826.8 364.3 L830 363.3 L832.5 362.2 L835.1 360.4 L838 359 L840.9 358.3 L843.7 356.9 L845.9 355.3 L849.2 354.2 L851.6 352.7 L854.1 351.1 L856.7 350.2 L859.5 348.9 L862 347.4 L865.1 345.5 L867.9 344.6 L870.6 343.3 L873.3 342 L875.7 340.7 L878.5 338.9 L881.5 337.5 L883.8 336.5 L886.8 334.8 L888.9 333.7 L892 332.4 L894.5 331.2 L897.5 329.8 L900.2 328.4 L902.8 327.2 L905.3 325.7 L908.4 324.4 L910.6 322.8 L913.9 321.8 L916 320.3 L919.2 319.3 L921.7 317.4 L924.2 316.1 L926.9 314.9 L930.1 314 L932.6 312.9 L935.1 311.2 L938.2 310.2 L940.6 309.2 L943.8 307.8 L946.4 306.6 L948.9 305.2 L952.1 304.2 L954.8 302.7 L957.5 302.2 L960.7 300.9 L962.9 299.3 L965.8 298.7"/>
<path class="r" d="M737.8 431 L740.7 430.6 L743.8 429.8 L746.4 428.4 L749.8 427.6 L752.6 427.2 L755.2 426.1 L758.4 425.2 L761.5 424.4 L763.8 424.1 L766.7 423.5 L769.9 422.1 L772.6 421.7 L776 420.8 L778.6 420.3 L781.7 419.6 L784.4 418.7 L787.7 418.3 L790.3 417.7 L793.1 416.8 L796.5 416 L799.3 414.9 L802.3 414.7 L805.1 413.9 L807.7 413.4 L810.9 412.6 L813.6 411.9 L816.6 411.3 L819.4 410.2 L822.5 409.7 L825.9 408.8 L828.6 408.1 L831.4 407.6 L834.2 407.1 L837.3 406.3 L840.5 405.6 L843.7 404.9 L846.6 404.2 L849.5 403.5 L851.8 402.8 L855.3 402.3 L857.9 401.9 L860.7 401.1 L863.9 400.2 L867.2 399.7 L869.7 399.2 L873 398.2 L875.5 398 L878.6 397.1 L881.6 396.6 L884.5 395.8 L887.5 394.6 L890.4 394.5 L893.4 393.4 L896 392.9 L899.2 391.9 L902.1 391.3 L905 390.4 L908 389.5 L910.8 389.1 L914.1 388.3 L916.8 387.8 L919.9 386.9 L922.7 386.1 L925.3 385 L928.1 384.1 L931.4 383.7 L933.9 383 L937.1 382 L939.8 381.3 L942.7 380 L945.8 379.4 L948.7 378.8 L951.3 377.7 L954.4 376.9 L957.5 376 L960.5 375 L962.8 373.9 L966.2 373.2"/>
<path class="r" d="M767 453.3 C768.8 453.6 773.7 454.2 777.5 455 C781.3 455.8 785.8 456.8 790 458 C794.2 459.2 798.7 460.7 802.5 462.3 C806.3 463.9 810 465.6 813 467.5 C816 469.4 819.2 472.5 820.5 473.5"/>
<path class="r" d="M822 496.5 C821.7 496.1 820.8 494.3 820 494 C819.2 493.7 818.2 494 817 494.6 C815.8 495.2 814.2 496.3 813 497.7 C811.8 499.1 811.1 501.6 809.8 503 C808.5 504.4 806.2 504.8 805 506 C803.8 507.2 802.9 509.3 802.5 510"/>
<path class="r" d="M503.6 508.6 L505.2 503.2 L507.6 508.2 L509.4 502.4 L506 505.6 L504.4 506.6 L508.2 509 L511.2 506.4 L510.4 503 L513 503.6 L512.4 500.4 L516.5 498.7 L517.9 496.4 L519.9 494 L521.7 491.5 L523.9 489 L525.7 486.7 L528 484.7 L529.9 482.4 L532.1 480 L534.1 477.7 L536.1 475.6 L538 473.8 L540.2 471.7 L542.6 469.5 L544.8 467.6 L546.9 465.5 L549.2 463.1 L551.8 461.1 L553.9 459.6 L556.1 457.6 L558.6 455.8 L560.8 454 L563.6 451.9 L566.1 450.5 L568.2 448.8 L571 446.7 L573.4 445.5 L576 443.5 L578.3 442.2 L580.9 440.5 L583.4 438.9 L586.1 437.6 L588.9 436.5 L591.3 434.8 L594.4 433.8 L596.8 432.4 L599.5 431.3 L602.3 430 L605.2 428.8 L607.9 427.6 L610.8 426.7 L613.7 425.6 L616.6 424.7 L619.7 423.7 L622.4 422.9 L625.3 422 L628.1 421.3 L631.1 420.6 L634.4 420 L637.3 419.1 L639.9 418.5 L643.2 418 L646.1 417.9"/>
<path class="r" d="M521.5 553.3 L521.5 549.4 L521.6 545.2 L521.9 541.2 L522.4 537.5 L522.7 533.4 L523.7 529.4 L524.2 525.3 L525.3 521.3 L526.4 517.6 L527.4 513.8 L528.7 509.9 L530.2 506 L531.8 502.4 L533.3 498.6 L535.1 495.1 L537 491.5 L539 487.8 L540.9 484.4 L543.1 480.9 L545.5 477.4 L547.7 474.2 L550.3 470.9 L552.7 467.6 L555.5 464.7 L558.1 461.7 L561.1 458.6 L564 455.8 L566.8 453 L569.9 450.3 L573.1 447.9 L576.2 445.5 L579.7 443.1 L582.9 440.9 L586.3 438.8 L589.8 436.6 L593.3 434.7 L596.9 433.1 L600.7 431.3 L604.6 429.8 L608.3 428.3 L612 427.1 L616 425.9"/>
<path class="r" stroke-width="1" d="M481 553 L480.5 548 L482 544 L480 540 L482.5 536 L481 532 L484 527 L485.5 522 L484.5 517 L486 513"/>
<path class="b" stroke-width="1" d="M483 526 L486 523.5 L489 526 L492 524 M484 537 L487 539.5 L485.5 543 M486 546 L488 544 M482.5 515 L483 509"/>
<path class="r" stroke-width="1" d="M488 521 L490 519.5 M491.5 527 L493 526 M487 531 L488.5 533"/>
<circle cx="803.2" cy="511.4" r="1.7" fill="none" stroke="#dd1515" stroke-width="1"/>
<circle cx="803.2" cy="511.4" r="1.1" fill="none" stroke="#1818f8" stroke-width="0.9"/>
<circle cx="805.6" cy="519.4" r="1.7" fill="none" stroke="#dd1515" stroke-width="1"/>
<circle cx="805.6" cy="519.4" r="1.1" fill="none" stroke="#1818f8" stroke-width="0.9"/>
<circle cx="808.1" cy="531" r="1.7" fill="none" stroke="#dd1515" stroke-width="1"/>
<circle cx="808.1" cy="531" r="1.1" fill="none" stroke="#1818f8" stroke-width="0.9"/>
<path class="r" stroke-width="1.3" stroke-dasharray="1.2 4" d="M746 139 L760 127"/>
<path class="b" stroke-width="1" d="M760.5 122.5 q2 -3.5 4.5 -2 q1.5 1.5 -1.5 3"/>
<path class="r" stroke-width="1.6" d="M772.5 114.5 L777 113.5"/>
<path class="b" stroke-width="1" d="M718 152 L724 149 L727 152.5 L729 147 L732 149.5 L734 144.5 L737 146.5 L739 141.5 L742 143.5 L745 138.5 M724 146 L736 138 L748 128"/>
<path class="b" stroke-width="1" d="M703 181 L708 180 L712 176 L716 174 L717 170"/>
<path class="b" stroke-width="1" d="M833.4 37.6 L844.2 35.2 M838 39.5 L842.5 36.5 L846 37.5 L855 33.8 M852.3 41.5 L861.7 35.4"/>
</g>
<rect transform="translate(760.2 196.3) rotate(-42)" x="-8.5" y="-11" width="17" height="22" fill="#fff"/>
<rect transform="translate(824 277.3) rotate(-30)" x="-8.5" y="-11" width="17" height="22" fill="#fff"/>
<rect transform="translate(860.2 292.9) rotate(0)" x="-8.5" y="-11" width="17" height="22" fill="#fff"/>
<rect transform="translate(882.4 338.6) rotate(-18)" x="-8.5" y="-11" width="17" height="22" fill="#fff"/>
<rect transform="translate(893.4 394.3) rotate(-21)" x="-8.5" y="-11" width="17" height="22" fill="#fff"/>
<rect transform="translate(823.5 482.6) rotate(0)" x="-8.5" y="-11" width="17" height="22" fill="#fff"/>
<rect transform="translate(602.5 297.8) rotate(0)" x="-8.5" y="-11" width="17" height="22" fill="#fff"/>
<rect transform="translate(494.5 510.6) rotate(0)" x="-8.5" y="-11" width="17" height="22" fill="#fff"/>
<rect transform="translate(525.1 523.4) rotate(-80)" x="-8.5" y="-11" width="17" height="22" fill="#fff"/>
<g clip-path="url(#pa)">
<path class="b" d="M533.4 553.9 L533.5 549 L533.8 544 L534.3 539.1 L535 534.2 L535.8 529.3 L536.8 524.5 L538 519.7 L539.4 514.9 L540.9 510.2 L542.6 505.6 L544.4 501 L546.5 496.5 L548.6 492 L551 487.7 L553.5 483.4 L556.1 479.2 L558.9 475.1 L561.8 471.2 L564.9 467.3 L568.1 463.5 L571.4 459.9 L574.9 456.4 L578.5 453 L582.2 449.7 L586 446.6 L590 443.6 L594 440.7 L598.2 438 L602.4 435.5 L606.7 433.1"/>
<path class="b" stroke-dasharray="14 9" d="M610.1 429 L612.5 427.9 L614.8 426.8 L617.2 425.8 L619.6 424.8 L622.1 423.8 L624.5 422.9 L627 422.1 L629.5 421.3 L632 420.5 L634.5 419.8 L637 419.1 L639.6 418.5 L642.1 417.9 L644.7 417.4 L647.2 416.9 L649.8 416.5 L652.4 416.1 L655 415.8 L657.6 415.5 L660.2 415.3 L662.8 415.1 L665.4 414.9 L668 414.8 L670.6 414.8 L673.2 414.8 L675.8 414.9 L678.5 415 L681.1 415.1 L683.7 415.3 L686.3 415.6"/>
<path class="b" stroke-dasharray="9 6" d="M767.7 455.5 L769.1 456.9 L770.5 458.3 L771.8 459.7 L773.1 461.1 L774.5 462.5 L775.7 463.9 L777 465.4 L778.2 466.9 L779.5 468.4 L780.7 469.9 L781.8 471.4 L783 473 L784.1 474.5 L785.2 476.1 L786.3 477.7 L787.4 479.3 L788.5 480.9 L789.5 482.6 L790.5 484.2 L791.5 485.9 L792.4 487.6 L793.3 489.3 L794.3 491 L795.1 492.7 L796 494.4 L796.8 496.2 L797.6 497.9 L798.4 499.7 L799.2 501.5 L799.9 503.3"/>
<path class="r" stroke-width="1" d="M771 458.9 L772.8 461.2 L775.2 463.7 L776.8 465 L778.4 467.7 L780.7 469.6 L782.4 472.4 L783.5 474.7 L785.5 477 L787.2 479.2 L788.9 481.7 L790 483.8 L791.9 486.2 L792.8 488.6 L794.1 491.5 L795.3 493.9 L796.8 496.4 L798.1 499.1 L798.9 501.9 L800.2 504.3 L800.9 507.4 L801.9 509.6 L803.1 512.7"/>
<path class="r" stroke-width="1" stroke-dasharray="3 7" d="M534 545.5 L534.3 542.1 L534.7 538.8 L535.1 535.4 L535.6 532.1 L536.2 528.8 L536.9 525.5 L537.7 522.2 L538.5 518.9 L539.4 515.7 L540.4 512.5 L541.5 509.3 L542.7 506.1 L543.9 503 L545.2 499.9 L546.6 496.8 L548.1 493.8 L549.6 490.8 L551.2 487.8 L552.9 484.9 L554.7 482 L556.5 479.2 L558.4 476.4 L560.3 473.7 L562.3 471 L564.4 468.3 L566.6 465.7 L568.8 463.2 L571.1 460.7 L573.4 458.3 L575.8 455.9 L578.3 453.6 L580.8 451.3 L583.3 449.2 L585.9 447 L588.6 445 L591.3 443 L594.1 441 L596.9 439.2 L599.8 437.4 L602.7 435.7"/>
<path class="r" stroke-width="1" stroke-dasharray="16 10" d="M605.8 431.3 L608.9 429.7 L612.1 428.1 L615.4 426.7 L618.6 425.3 L621.9 424 L625.3 422.8 L628.6 421.6 L632 420.6 L635.4 419.6 L638.9 418.8 L642.3 418 L645.8 417.3 L649.3 416.7 L652.8 416.2 L656.3 415.7 L659.9 415.4 L663.4 415.1 L667 415 L670.5 414.9 L674 414.9 L677.6 415 L681.1 415.2 L684.7 415.5 L688.2 415.9 L691.7 416.4 L695.2 416.9 L698.7 417.5 L702.2 418.3 L705.6 419.1 L709.1 420 L712.5 421 L715.9 422.1 L719.2 423.2 L722.5 424.5 L725.8 425.8 L729.1 427.2 L732.3 428.7 L735.5 430.3 L738.6 431.9 L741.7 433.7"/>
</g>
<path class="k" stroke-width="1.35" d="M532.3 553.5 A139.3 139.3 0 0 1 810.8 550.2"/>
<text class="sans lab" transform="translate(760.2 196.3) rotate(-42)" x="0" y="9.3">6</text>
<text class="sans lab" transform="translate(824 277.3) rotate(-30)" x="0" y="9.3">5</text>
<text class="sans lab" transform="translate(860.2 292.9) rotate(0)" x="0" y="9.3">4</text>
<text class="sans lab" transform="translate(882.4 338.6) rotate(-18)" x="0" y="9.3">3</text>
<text class="sans lab" transform="translate(893.4 394.3) rotate(-21)" x="0" y="9.3">2</text>
<text class="sans lab" transform="translate(823.5 482.6) rotate(0)" x="0" y="9.3">1</text>
<text class="sans lab" transform="translate(602.5 297.8) rotate(0)" x="0" y="9.3">7</text>
<text class="sans lab" transform="translate(494.5 510.6) rotate(0)" x="0" y="9.3">8</text>
<text class="sans lab" transform="translate(525.1 523.4) rotate(-80)" x="0" y="9.3">9</text>
<rect x="97" y="4" width="4.3" height="553.3" fill="#000"/>
<rect x="97" y="553" width="869.6" height="4.3" fill="#000"/>
<g fill="#000">
<rect x="132.1" y="542.5" width="1.4" height="11" />
<rect x="166.8" y="542.5" width="1.4" height="11" />
<rect x="201.6" y="542.5" width="1.4" height="11" />
<rect x="236.3" y="542.5" width="1.4" height="11" />
<rect x="269.7" y="534.5" width="4.1" height="19" />
<rect x="305.8" y="542.5" width="1.4" height="11" />
<rect x="340.6" y="542.5" width="1.4" height="11" />
<rect x="375.3" y="542.5" width="1.4" height="11" />
<rect x="410.1" y="542.5" width="1.4" height="11" />
<rect x="443.4" y="534.5" width="4.1" height="19" />
<rect x="479.6" y="542.5" width="1.4" height="11" />
<rect x="514.3" y="542.5" width="1.4" height="11" />
<rect x="549" y="542.5" width="1.4" height="11" />
<rect x="583.8" y="542.5" width="1.4" height="11" />
<rect x="617.2" y="534.5" width="4.1" height="19" />
<rect x="653.3" y="542.5" width="1.4" height="11" />
<rect x="688" y="542.5" width="1.4" height="11" />
<rect x="722.8" y="542.5" width="1.4" height="11" />
<rect x="757.5" y="542.5" width="1.4" height="11" />
<rect x="791" y="534.5" width="4.1" height="19" />
<rect x="827" y="542.5" width="1.4" height="11" />
<rect x="861.8" y="542.5" width="1.4" height="11" />
<rect x="896.5" y="542.5" width="1.4" height="11" />
<rect x="931.3" y="542.5" width="1.4" height="11" />
<rect x="101" y="519.6" width="10.3" height="1.4" />
<rect x="101" y="484.7" width="10.3" height="1.4" />
<rect x="101" y="449.9" width="10.3" height="1.4" />
<rect x="101" y="415" width="10.3" height="1.4" />
<rect x="101" y="378.8" width="18.6" height="4.3" />
<rect x="101" y="345.4" width="10.3" height="1.4" />
<rect x="101" y="310.5" width="10.3" height="1.4" />
<rect x="101" y="275.7" width="10.3" height="1.4" />
<rect x="101" y="240.8" width="10.3" height="1.4" />
<rect x="101" y="204.5" width="18.6" height="4.3" />
<rect x="101" y="171.2" width="10.3" height="1.4" />
<rect x="101" y="136.3" width="10.3" height="1.4" />
<rect x="101" y="101.5" width="10.3" height="1.4" />
<rect x="101" y="66.6" width="10.3" height="1.4" />
<rect x="101" y="30.4" width="18.6" height="4.3" />
</g>
<g class="sans tick" text-anchor="end">
<text x="87.6" y="566.1">0</text>
<text x="87.6" y="391.9">0.05</text>
<text x="86.1" y="217.7">0.1</text>
<text x="87.6" y="43.5">0.15</text>
</g>
<g class="sans tick" text-anchor="middle">
<text x="271.8" y="586">0.05</text>
<text x="444.3" y="586">0.1</text>
<text x="619.2" y="586">0.15</text>
<text x="793" y="586">0.2</text>
</g>
<text class="sans axl" text-anchor="middle" x="531.4" y="621.6">X / m</text>
<text class="sans axl" text-anchor="middle" transform="translate(30.3 281.2) rotate(-90)" x="0" y="0">Y / m</text>
<rect x="163.6" y="94.6" width="219.1" height="362.1" fill="#fff" stroke="#1c1c1c" stroke-width="1.15"/>
<g class="sans lg">
<text x="200.5" y="131.8">Level</text>
<text x="272.8" y="131.8">ρ/kg m</text>
<text x="350.2" y="120.6" style="font-size:15.5px">-3</text>
<text x="200.8" y="175">9</text>
<text x="273" y="175">0.0005</text>
<text x="200.8" y="205.8">8</text>
<text x="273" y="205.8">0.0004</text>
<text x="200.8" y="236.6">7</text>
<text x="273" y="236.6">0.0003</text>
<text x="200.8" y="267.4">6</text>
<text x="273" y="267.4">0.0002</text>
<text x="200.8" y="298.2">5</text>
<text x="273" y="298.2">0.0001</text>
<text x="200.8" y="329">4</text>
<text x="273" y="329">8E-05</text>
<text x="200.8" y="359.9">3</text>
<text x="273" y="359.9">6E-05</text>
<text x="200.8" y="390.7">2</text>
<text x="273" y="390.7">4E-05</text>
<text x="200.8" y="421.5">1</text>
<text x="273" y="421.5">2E-05</text>
</g>
<line x1="415" y1="75.4" x2="524" y2="75.4" stroke="#dd1515" stroke-width="1.15"/>
<line x1="415.5" y1="106.5" x2="524" y2="106.5" stroke="#1818f8" stroke-width="1.15" stroke-dasharray="22 21.5"/>
<text class="serif" style="font-size:25.1px" x="548.7" y="74.7">full DSMC</text>
<text class="serif" style="font-size:25.1px" x="551.3" y="111.2">N-S/DSMC</text>
</svg>
</body></html>
